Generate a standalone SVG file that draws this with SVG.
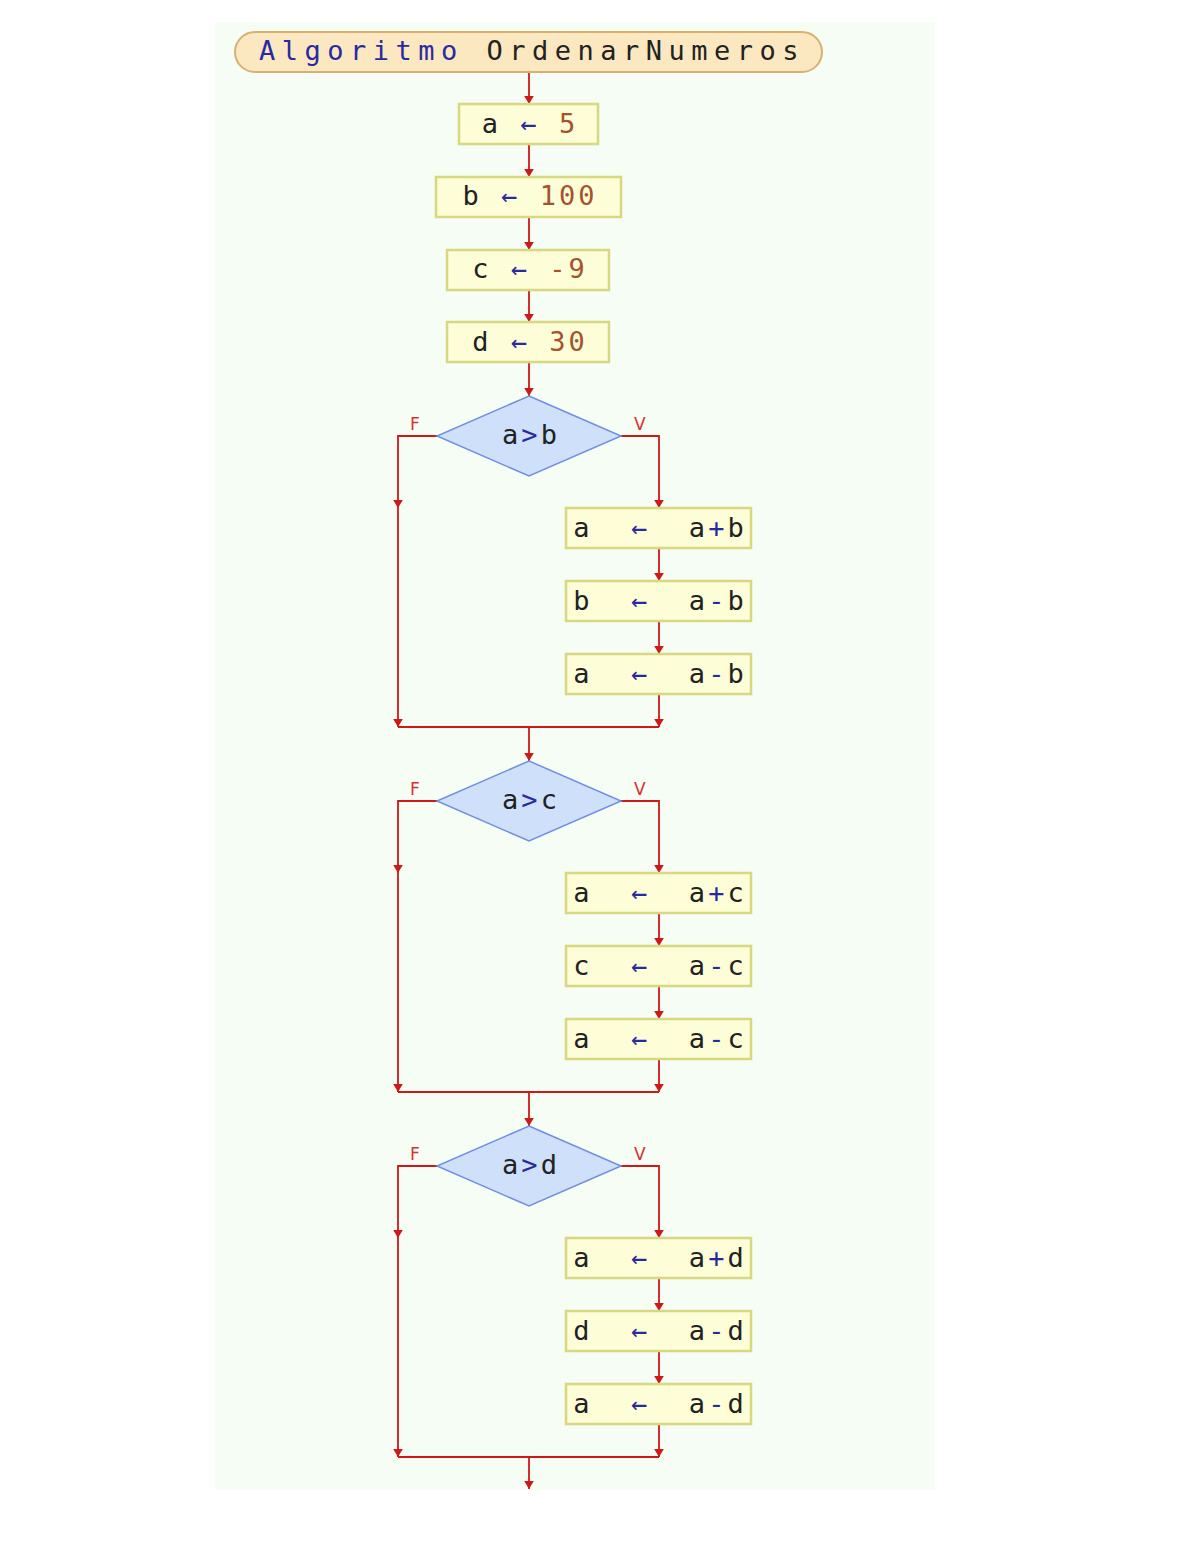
<svg xmlns="http://www.w3.org/2000/svg" width="1200" height="1553" viewBox="0 0 1200 1553">
<defs>
<style>
.t{font-family:"DejaVu Sans Mono","Liberation Mono",monospace;font-size:27px;fill:#222;letter-spacing:3px}
.ti{letter-spacing:6.5px}
.k{fill:#2a2aa0}.n{fill:#a5522d}
.box{fill:#fdfdd8;stroke:#d8d880;stroke-width:2.5}
.dia{fill:#cfe0fb;stroke:#6f8fe0;stroke-width:1.5}
.c{stroke:#d01818;stroke-width:1.8;fill:none}
.lb{font-family:"DejaVu Sans","Liberation Sans",sans-serif;font-size:17px;fill:#d83030}
</style>
<marker id="ah" viewBox="0 0 10 12" refX="10" refY="6" markerWidth="8" markerHeight="10" markerUnits="userSpaceOnUse" orient="auto"><path d="M0,0 L10,6 L0,12 Z" fill="#d01818"/></marker>
</defs>
<rect x="215" y="22" width="720" height="1468" fill="#f6fdf4"/>
<g id="connectors">
<path class="c" d="M529,72 V104" marker-end="url(#ah)"/>
<path class="c" d="M529,144 V177" marker-end="url(#ah)"/>
<path class="c" d="M529,217 V250" marker-end="url(#ah)"/>
<path class="c" d="M529,290 V322" marker-end="url(#ah)"/>
<path class="c" d="M529,362 V396" marker-end="url(#ah)"/>
<g id="b1">
<path class="c" d="M437,436 H398 V508" marker-end="url(#ah)"/><path class="c" d="M398,508 V727" marker-end="url(#ah)"/>
<path class="c" d="M621,436 H659 V508" marker-end="url(#ah)"/>
<path class="c" d="M659,548 V581" marker-end="url(#ah)"/>
<path class="c" d="M659,621 V654" marker-end="url(#ah)"/>
<path class="c" d="M659,694 V727" marker-end="url(#ah)"/>
<path class="c" d="M398,727 H659"/><path class="c" d="M529,727 V761" marker-end="url(#ah)"/>
</g>
<g transform="translate(0,365)">
<path class="c" d="M437,436 H398 V508" marker-end="url(#ah)"/><path class="c" d="M398,508 V727" marker-end="url(#ah)"/>
<path class="c" d="M621,436 H659 V508" marker-end="url(#ah)"/>
<path class="c" d="M659,548 V581" marker-end="url(#ah)"/>
<path class="c" d="M659,621 V654" marker-end="url(#ah)"/>
<path class="c" d="M659,694 V727" marker-end="url(#ah)"/>
<path class="c" d="M398,727 H659"/><path class="c" d="M529,727 V761" marker-end="url(#ah)"/>
</g>
<g transform="translate(0,730)">
<path class="c" d="M437,436 H398 V508" marker-end="url(#ah)"/><path class="c" d="M398,508 V727" marker-end="url(#ah)"/>
<path class="c" d="M621,436 H659 V508" marker-end="url(#ah)"/>
<path class="c" d="M659,548 V581" marker-end="url(#ah)"/>
<path class="c" d="M659,621 V654" marker-end="url(#ah)"/>
<path class="c" d="M659,694 V727" marker-end="url(#ah)"/>
<path class="c" d="M398,727 H659"/><path class="c" d="M529,727 V759" marker-end="url(#ah)"/>
</g>
</g>
<g id="start"><rect x="235" y="32" width="587" height="40" rx="20" fill="#fbe8c0" stroke="#d9b070" stroke-width="2"/>
<text class="t ti" x="532" y="60" text-anchor="middle"><tspan class="k">Algoritmo</tspan> OrdenarNumeros</text></g>
<g id="s1"><rect class="box" x="459" y="104" width="139" height="40"/><text class="t" x="530" y="133" text-anchor="middle" xml:space="preserve">a <tspan class="k">←</tspan> <tspan class="n">5</tspan></text></g>
<g id="s2"><rect class="box" x="436" y="177" width="185" height="40"/><text class="t" x="530" y="205" text-anchor="middle" xml:space="preserve">b <tspan class="k">←</tspan> <tspan class="n">100</tspan></text></g>
<g id="s3"><rect class="box" x="447" y="250" width="162" height="40"/><text class="t" x="530" y="278" text-anchor="middle" xml:space="preserve">c <tspan class="k">←</tspan> <tspan class="n">-9</tspan></text></g>
<g id="s4"><rect class="box" x="447" y="322" width="162" height="40"/><text class="t" x="530" y="351" text-anchor="middle" xml:space="preserve">d <tspan class="k">←</tspan> <tspan class="n">30</tspan></text></g>
<g id="d1"><path class="dia" d="M529,396 L621,436 L529,476 L437,436 Z"/><text class="t" x="531" y="444" text-anchor="middle">a<tspan class="k">&gt;</tspan>b</text><text class="lb" x="410" y="430">F</text><text class="lb" x="634" y="430">V</text></g>
<g id="p1"><rect class="box" x="566" y="508" width="185" height="40"/><text class="t" x="660" y="537" text-anchor="middle" xml:space="preserve">a  <tspan class="k">←</tspan>  a<tspan class="k">+</tspan>b</text></g>
<g id="p2"><rect class="box" x="566" y="581" width="185" height="40"/><text class="t" x="660" y="610" text-anchor="middle" xml:space="preserve">b  <tspan class="k">←</tspan>  a<tspan class="k">-</tspan>b</text></g>
<g id="p3"><rect class="box" x="566" y="654" width="185" height="40"/><text class="t" x="660" y="683" text-anchor="middle" xml:space="preserve">a  <tspan class="k">←</tspan>  a<tspan class="k">-</tspan>b</text></g>
<g id="d2"><path class="dia" d="M529,761 L621,801 L529,841 L437,801 Z"/><text class="t" x="531" y="809" text-anchor="middle">a<tspan class="k">&gt;</tspan>c</text><text class="lb" x="410" y="795">F</text><text class="lb" x="634" y="795">V</text></g>
<g id="q1"><rect class="box" x="566" y="873" width="185" height="40"/><text class="t" x="660" y="902" text-anchor="middle" xml:space="preserve">a  <tspan class="k">←</tspan>  a<tspan class="k">+</tspan>c</text></g>
<g id="q2"><rect class="box" x="566" y="946" width="185" height="40"/><text class="t" x="660" y="975" text-anchor="middle" xml:space="preserve">c  <tspan class="k">←</tspan>  a<tspan class="k">-</tspan>c</text></g>
<g id="q3"><rect class="box" x="566" y="1019" width="185" height="40"/><text class="t" x="660" y="1048" text-anchor="middle" xml:space="preserve">a  <tspan class="k">←</tspan>  a<tspan class="k">-</tspan>c</text></g>
<g id="d3"><path class="dia" d="M529,1126 L621,1166 L529,1206 L437,1166 Z"/><text class="t" x="531" y="1174" text-anchor="middle">a<tspan class="k">&gt;</tspan>d</text><text class="lb" x="410" y="1160">F</text><text class="lb" x="634" y="1160">V</text></g>
<g id="r1"><rect class="box" x="566" y="1238" width="185" height="40"/><text class="t" x="660" y="1267" text-anchor="middle" xml:space="preserve">a  <tspan class="k">←</tspan>  a<tspan class="k">+</tspan>d</text></g>
<g id="r2"><rect class="box" x="566" y="1311" width="185" height="40"/><text class="t" x="660" y="1340" text-anchor="middle" xml:space="preserve">d  <tspan class="k">←</tspan>  a<tspan class="k">-</tspan>d</text></g>
<g id="r3"><rect class="box" x="566" y="1384" width="185" height="40"/><text class="t" x="660" y="1413" text-anchor="middle" xml:space="preserve">a  <tspan class="k">←</tspan>  a<tspan class="k">-</tspan>d</text></g>
</svg>
